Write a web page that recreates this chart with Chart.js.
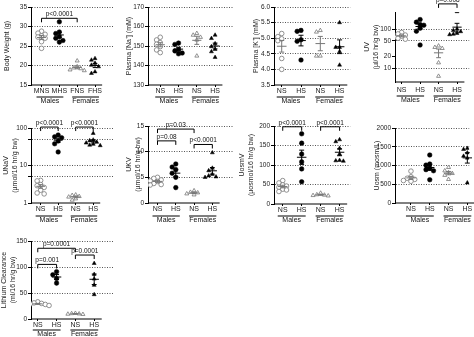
<!DOCTYPE html>
<html>
<head>
<meta charset="utf-8">
<script src="https://cdn.jsdelivr.net/npm/chart.js@4"></script>
<style>
  html, body { margin: 0; padding: 0; background: #fff; }
  #wrap { position: relative; width: 474px; height: 337px; overflow: hidden; }
  #wrap canvas { position: absolute; }
</style>
</head>
<body>
<div id="wrap"></div>
<script>
const FONT = "'Liberation Sans', Arial, sans-serif";

// categories
const sexGroups = ['Males', 'Females'];
const dietLabels = ['NS', 'HS', 'NS', 'HS'];
const bwLabels = ['MNS', 'MHS', 'FNS', 'FHS'];

// values per group: male NS, male HS, female NS, female HS
const bodyWeight = [
    [28.8, 28.3, 28.0, 27.6, 27.3, 27.0, 26.1, 24.4],
    [31.2, 28.6, 28.2, 27.4, 27.0, 26.4, 26.0],
    [21.2, 19.7, 19.4, 19.2, 18.9, 18.7],
    [21.8, 21.4, 20.6, 20.1, 19.7, 18.4, 18.0]
];
const plasmaNa = [
    [154.5, 153.1, 151.7, 150.9, 149.7, 148.0, 146.6],
    [151.5, 150.8, 148.2, 147.5, 146.4, 146.0],
    [156.5, 155.6, 154.5, 153.1, 144.9],
    [155.6, 153.9, 151.2, 149.7, 148.3, 147.1, 144.2]
];
const plasmaK = [
    [5.15, 5.05, 4.98, 4.92, 4.35, 4.0],
    [5.25, 5.22, 4.95, 4.9, 4.3],
    [5.25, 5.2, 4.43, 4.43],
    [5.5, 4.71, 4.71, 4.57, 4.14]
];
const urineVolume = [
    [82, 75, 70, 66, 62, 58, 55],
    [175, 150, 130, 125, 105, 88, 39],
    [37, 34, 32, 13.7, 6.2],
    [280, 100, 92, 86, 78, 74, 72]
];
const sodiumExcretion = [
    [4.0, 3.9, 3.1, 2.9, 2.6, 2.2, 1.85, 1.75],
    [65, 58, 55, 45, 38, 23],
    [1.65, 1.6, 1.5, 1.45, 1.3, 1.2],
    [72, 48, 46, 42, 40, 37, 35, 34]
];
const potassiumExcretion = [
    [5.0, 4.8, 4.5, 4.3, 4.2, 3.8, 3.6, 3.5],
    [7.6, 7.0, 6.5, 5.8, 5.0, 3.0],
    [2.4, 2.1, 2.0, 1.8, 1.6],
    [9.8, 6.8, 6.3, 5.6, 5.3, 5.1, 5.0]
];
const osmolarExcretion = [
    [60, 54, 49, 46, 43, 38, 36, 32],
    [180, 156, 128, 108, 90, 57],
    [28, 24, 23, 22, 21],
    [165, 160, 143, 128, 112, 111, 110]
];
const urineOsmolality = [
    [850, 700, 660, 630, 600, 580],
    [1280, 1040, 1010, 930, 890, 860, 620],
    [950, 860, 810, 790, 740, 630],
    [1460, 1430, 1340, 1250, 1200, 540]
];
const lithiumClearance = [
    [33, 31, 30, 29, 28, 27, 26],
    [91, 85, 78, 69],
    [11, 10.5, 10, 9.5, 9],
    [107, 86, 77, 65, 47]
];

// tick values
const bwTicks = [15, 20, 25, 30, 35];
const naTicks = [130, 140, 150, 160, 170];
const kTicks = [3.5, 4.0, 4.5, 5.0, 5.5, 6.0];
const uvTicks = [10, 20, 50, 100];
const unavTicks = [1, 5, 10, 50, 100];
const unavLabeled = [1, 10, 100];
const ukvTicks = [0, 5, 10, 15];
const uosmvTicks = [0, 50, 100, 150, 200];
const uosmTicks = [0, 500, 1000, 1500, 2000];
const liTicks = [0, 50, 100, 150];

// significance brackets
const bwBrackets = [{ a: 1, b: 3, y: 32.1, text: 'p<0.0001' }];
const uvBrackets = [{ a: 3, b: 4, y: 440, text: 'p=0.008' }];
const unavBrackets = [
    { a: 1, b: 2, y: 106, text: 'p<0.0001' },
    { a: 3, b: 4, y: 106, text: 'p<0.0001' }
];
const ukvBrackets = [
    { a: 1, b: 3, y: 14.4, text: 'p=0.03' },
    { a: 1, b: 2, y: 12.1, text: 'p=0.08' },
    { a: 3, b: 4, y: 11.4, text: 'p<0.0001' }
];
const uosmvBrackets = [
    { a: 1, b: 2, y: 198, text: 'p<0.0001' },
    { a: 3, b: 4, y: 198, text: 'p<0.0001' }
];
const liBrackets = [
    { a: 1, b: 3, y: 136, text: 'p=0.0001' },
    { a: 1, b: 2, y: 105, text: 'p=0.001' },
    { a: 3, b: 4, y: 123, text: 'p=0.0001' }
];

const markerStyles = [
    { style: 'circle', fill: '#fff', edge: '#777', bw: 0.8, bar: '#777' },
    { style: 'circle', fill: '#000', edge: '#000', bw: 0.5, bar: '#000' },
    { style: 'triangle', fill: '#fff', edge: '#777', bw: 0.8, bar: '#777' },
    { style: 'triangle', fill: '#000', edge: '#000', bw: 0.5, bar: '#000' }
];

const panels = [
    { values: bodyWeight, xLabels: bwLabels, title: 'Body Weight (g)', type: 'linear', min: 15, max: 35,
      ticks: bwTicks, labeled: bwTicks, gridAt: [20, 25, 30, 35], dec: 0, brackets: bwBrackets,
      box: [0, 0, 118, 108], area: [31, 7, 117, 85], xr: [0.41, 5.02], titlePad: 3, gOff: 12 },
    { values: plasmaNa, xLabels: dietLabels, title: 'Plasma [Na\u207A] (mM)', type: 'linear', min: 130, max: 170,
      ticks: naTicks, labeled: naTicks, gridAt: [140, 150, 160, 170], dec: 0, brackets: [],
      box: [118, 0, 120, 108], area: [148, 7, 238, 85], xr: [0.33, 4.99], titlePad: 7, gOff: 12 },
    { values: plasmaK, xLabels: dietLabels, title: 'Plasma [K\u207A] (mM)', type: 'linear', min: 3.5, max: 6.0,
      ticks: kTicks, labeled: kTicks, gridAt: [4.0, 4.5, 5.0, 5.5, 6.0], dec: 1, brackets: [],
      box: [238, 0, 117, 108], area: [274, 7, 353, 85], xr: [0.6, 4.55], titlePad: 14, gOff: 12 },
    { values: urineVolume, xLabels: dietLabels, title: ['UV', '(\u00B5l/16 hr/g bw)'], type: 'logarithmic', min: 4.4, max: 273,
      ticks: uvTicks, labeled: uvTicks, gridAt: [10, 50, 100], dec: 0, brackets: uvBrackets,
      box: [355, 0, 119, 108], area: [395, 12, 474, 82], xr: [0.64, 4.66], titlePad: 8, gOff: 14, xPad: 2 },
    { values: sodiumExcretion, xLabels: dietLabels, title: ['UNaV', '(\u00B5mol/16 hr/g bw)'], type: 'logarithmic', min: 1, max: 100,
      ticks: unavTicks, labeled: unavLabeled, gridAt: [5, 10, 50, 100], dec: 0, brackets: unavBrackets,
      box: [0, 108, 118, 117], area: [31, 128, 117, 203], xr: [0.45, 5.14], titlePad: 2, gOff: 13 },
    { values: potassiumExcretion, xLabels: dietLabels, title: ['UKV', '(\u00B5mol/16 hr/g bw)'], type: 'linear', min: 0, max: 15,
      ticks: ukvTicks, labeled: ukvTicks, gridAt: [5, 10, 15], dec: 0, brackets: ukvBrackets,
      box: [118, 108, 120, 117], area: [148, 126, 238, 203], xr: [0.48, 5.14], titlePad: 7, gOff: 13 },
    { values: osmolarExcretion, xLabels: dietLabels, title: ['UosmV', '(\u00B5osmol/16 hr/g bw)'], type: 'linear', min: 0, max: 200,
      ticks: uosmvTicks, labeled: uosmvTicks, gridAt: [50, 100, 150, 200], dec: 0, brackets: uosmvBrackets,
      box: [238, 108, 117, 117], area: [274, 126, 353, 204], xr: [0.54, 4.56], titlePad: 0, gOff: 12 },
    { values: urineOsmolality, xLabels: dietLabels, title: 'Uosm (mosm/L)', type: 'linear', min: 0, max: 2000,
      ticks: uosmTicks, labeled: uosmTicks, gridAt: [500, 1000, 1500, 2000], dec: 0, brackets: [],
      box: [355, 108, 119, 117], area: [395, 128, 474, 203], xr: [0.15, 4.1], titlePad: 18, gOff: 13 },
    { values: lithiumClearance, xLabels: dietLabels, title: ['Lithium Clearance', '(ml/16 hr/g bw)'], type: 'linear', min: 0, max: 150,
      ticks: liTicks, labeled: liTicks, gridAt: [50, 100, 150], dec: 0, brackets: liBrackets,
      box: [0, 225, 118, 112], area: [31, 241, 117, 319], xr: [0.64, 5.01], titlePad: 0, gOff: 11 }
];

// spread points sideways where they would overlap (beeswarm style)
function swarm(vals, g, frac) {
    const placed = [];
    const out = [];
    const order = vals.map((v, i) => i).sort((a, b) => vals[b] - vals[a]);
    order.forEach(i => {
        const f = frac(vals[i]);
        let off = 0;
        for (const k of [0, -1, 1, -2, 2, -3, 3]) {
            off = k * 0.2;
            if (!placed.some(p => Math.abs(p.f - f) < 0.05 && Math.abs(p.off - off) < 0.15)) break;
        }
        placed.push({ f, off });
        out.push({ x: g + off, y: vals[i] });
    });
    return out;
}

function meanSem(vals) {
    const n = vals.length;
    const m = vals.reduce((s, v) => s + v, 0) / n;
    const sd = Math.sqrt(vals.reduce((s, v) => s + (v - m) * (v - m), 0) / (n - 1));
    return { mean: m, sem: sd / Math.sqrt(n) };
}

function line(ctx, x1, y1, x2, y2) {
    ctx.beginPath();
    ctx.moveTo(x1, y1);
    ctx.lineTo(x2, y2);
    ctx.stroke();
}

function makeOverlay(p) {
    return {
        id: 'overlay',
        afterDraw(chart) {
            const ctx = chart.ctx;
            const xs = chart.scales.x;
            const ys = chart.scales.y;
            const area = chart.chartArea;
            ctx.save();
            ctx.lineWidth = 1;

            // x axis line
            ctx.strokeStyle = '#000';
            line(ctx, area.left, area.bottom, xs.getPixelForValue(4.4), area.bottom);

            // mean +/- SEM
            p.values.forEach((vals, i) => {
                const { mean, sem } = meanSem(vals);
                const g = i + 1;
                const ym = ys.getPixelForValue(mean);
                const yt = ys.getPixelForValue(mean + sem);
                const yb = ys.getPixelForValue(Math.max(mean - sem, p.min * 1.0001));
                ctx.strokeStyle = markerStyles[i].bar;
                line(ctx, xs.getPixelForValue(g - 0.25), ym, xs.getPixelForValue(g + 0.25), ym);
                line(ctx, xs.getPixelForValue(g), yt, xs.getPixelForValue(g), yb);
                line(ctx, xs.getPixelForValue(g - 0.13), yt, xs.getPixelForValue(g + 0.13), yt);
                line(ctx, xs.getPixelForValue(g - 0.13), yb, xs.getPixelForValue(g + 0.13), yb);
            });

            // significance brackets
            ctx.strokeStyle = '#000';
            ctx.fillStyle = '#111';
            ctx.font = '6.5px ' + FONT;
            ctx.textAlign = 'center';
            ctx.textBaseline = 'middle';
            p.brackets.forEach(b => {
                const xa = xs.getPixelForValue(b.a);
                const xb = xs.getPixelForValue(b.b);
                const py = ys.getPixelForValue(b.y);
                ctx.beginPath();
                ctx.moveTo(xa, py + 4);
                ctx.lineTo(xa, py);
                ctx.lineTo(xb, py);
                ctx.lineTo(xb, py + 4);
                ctx.stroke();
                ctx.fillText(b.text, (xa + xb) / 2, py - 4);
            });

            // Males / Females group labels
            ctx.font = '7px ' + FONT;
            const ly = area.bottom + p.gOff;
            sexGroups.forEach((name, k) => {
                const x1 = xs.getPixelForValue(2 * k + 1) - 5;
                const x2 = xs.getPixelForValue(2 * k + 2) + 4;
                line(ctx, x1, ly, x2, ly);
                ctx.fillText(name, (x1 + x2) / 2, ly + 4.5);
            });
            ctx.restore();
        }
    };
}

const wrap = document.getElementById('wrap');

panels.forEach(p => {
    const [l, t, w, h] = p.box;
    const [al, at, ar, ab] = p.area;
    const canvas = document.createElement('canvas');
    canvas.width = w;
    canvas.height = h;
    canvas.style.left = l + 'px';
    canvas.style.top = t + 'px';
    wrap.appendChild(canvas);

    const frac = p.type === 'logarithmic'
        ? v => Math.log(v / p.min) / Math.log(p.max / p.min)
        : v => (v - p.min) / (p.max - p.min);

    const datasets = p.values.map((vals, i) => ({
        data: swarm(vals, i + 1, frac),
        pointStyle: markerStyles[i].style,
        pointRadius: 2.3,
        pointBackgroundColor: markerStyles[i].fill,
        pointBorderColor: markerStyles[i].edge,
        pointBorderWidth: markerStyles[i].bw,
        showLine: false
    }));

    new Chart(canvas.getContext('2d'), {
        type: 'scatter',
        data: { datasets },
        options: {
            responsive: false,
            animation: false,
            devicePixelRatio: 1,
            events: [],
            layout: { padding: { left: 0, top: at - t, right: l + w - ar, bottom: 0 } },
            plugins: { legend: { display: false }, tooltip: { enabled: false } },
            scales: {
                x: {
                    type: 'linear',
                    min: p.xr[0],
                    max: p.xr[1],
                    afterBuildTicks: s => { s.ticks = [1, 2, 3, 4].map(v => ({ value: v })); },
                    afterFit: s => { s.height = t + h - ab; },
                    ticks: {
                        autoSkip: false,
                        maxRotation: 0,
                        padding: p.xPad || 0,
                        color: '#222',
                        font: { family: FONT, size: 7 },
                        callback: v => p.xLabels[Math.round(v) - 1]
                    },
                    grid: { drawOnChartArea: false, drawTicks: true, tickLength: 2, tickColor: '#000' },
                    border: { display: false }
                },
                y: {
                    type: p.type,
                    min: p.min,
                    max: p.max,
                    afterBuildTicks: s => { s.ticks = p.ticks.map(v => ({ value: v })); },
                    afterFit: s => { s.width = al - l; },
                    ticks: {
                        autoSkip: false,
                        padding: 1,
                        color: '#222',
                        font: { family: FONT, size: 6.5 },
                        callback: v => p.labeled.includes(v) ? v.toFixed(p.dec) : ''
                    },
                    grid: {
                        drawOnChartArea: true,
                        drawTicks: true,
                        tickLength: 3,
                        tickColor: '#000',
                        lineWidth: 1,
                        color: c => (c.tick && p.gridAt.includes(c.tick.value)) ? '#555' : 'rgba(0,0,0,0)'
                    },
                    border: { display: true, color: '#000', width: 1, dash: [1, 1.5] },
                    title: {
                        display: true,
                        text: p.title,
                        color: '#222',
                        font: { family: FONT, size: 7 },
                        padding: { top: p.titlePad, bottom: 0 }
                    }
                }
            }
        },
        plugins: [makeOverlay(p)]
    });
});
</script>
</body>
</html>
